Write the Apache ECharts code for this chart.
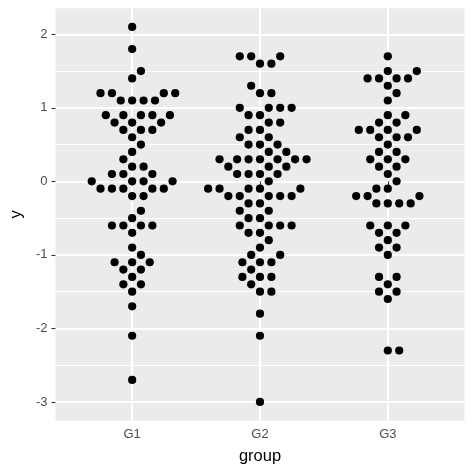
<!DOCTYPE html>
<html>
<head>
<meta charset="utf-8">
<script src="https://cdn.jsdelivr.net/npm/echarts@6/dist/echarts.min.js"></script>
<style>
html,body{margin:0;padding:0;background:#fff;}
#c{width:474px;height:474px;}
</style>
</head>
<body>
<div id="c"></div>
<script>
// ---- data ----
const categories = ['G1', 'G2', 'G3'];
const valuesG1 = [2.1, 1.8, 1.5, 1.4, 1.2, 1.2, 1.2, 1.2, 1.1, 1.1, 1.1, 1.1,
  0.9, 0.9, 0.9, 0.9, 0.9, 0.8, 0.8, 0.8, 0.7, 0.7, 0.7, 0.6, 0.5, 0.4, 0.3,
  0.2, 0.2, 0.1, 0.1, 0.1, 0.0, 0.0, 0.0, 0.0, -0.1, -0.1, -0.1, -0.1, -0.1,
  -0.2, -0.2, -0.4, -0.5, -0.6, -0.6, -0.6, -0.6, -0.7, -0.9, -1.0,
  -1.1, -1.1, -1.1, -1.2, -1.2, -1.3, -1.4, -1.4, -1.5, -1.7, -2.1, -2.7];
const valuesG2 = [1.7, 1.7, 1.7, 1.6, 1.6, 1.3, 1.2, 1.2, 1.0, 1.0, 1.0, 1.0,
  0.9, 0.9, 0.8, 0.8, 0.7, 0.7, 0.6, 0.6, 0.5, 0.5, 0.5, 0.4, 0.4,
  0.3, 0.3, 0.3, 0.3, 0.3, 0.3, 0.3, 0.2, 0.2, 0.2, 0.1, 0.1, 0.1, 0.1, 0.0,
  -0.1, -0.1, -0.1, -0.1, -0.1, -0.2, -0.2, -0.2, -0.2, -0.2, -0.3, -0.3,
  -0.4, -0.4, -0.5, -0.5, -0.6, -0.6, -0.6, -0.6, -0.7, -0.7, -0.8, -0.9,
  -1.0, -1.0, -1.1, -1.1, -1.1, -1.2, -1.3, -1.3, -1.3, -1.4, -1.5, -1.5,
  -1.8, -2.1, -3.0];
const valuesG3 = [1.7, 1.5, 1.5, 1.4, 1.4, 1.4, 1.4, 1.3, 1.2, 1.1, 0.9, 0.9,
  0.8, 0.8, 0.7, 0.7, 0.7, 0.7, 0.6, 0.6, 0.6, 0.5, 0.4, 0.4, 0.3, 0.3, 0.3,
  0.2, 0.2, 0.1, 0.0, -0.1, -0.1, -0.2, -0.2, -0.2, -0.3, -0.3, -0.3, -0.3,
  -0.6, -0.6, -0.6, -0.7, -0.7, -0.8, -0.9, -0.9, -1.0, -1.3, -1.3, -1.4,
  -1.5, -1.5, -1.6, -2.3, -2.3];
const groupValues = [valuesG1, valuesG2, valuesG3];
const yTicks = [-3, -2, -1, 0, 1, 2];
const yMinorTicks = [-2.5, -1.5, -0.5, 0.5, 1.5];
const xTicks = [1, 2, 3];

// ---- layout constants ----
const W = 474, H = 474;
const gridL = 52.8, gridR = 9.5, gridT = 8.2, gridB = 53.3;
const xMin = 0.4, xMax = 3.6;
let all = [].concat(...groupValues);
const dMin = Math.min(...all), dMax = Math.max(...all);
const expand = (dMax - dMin) * 0.05;
const yMin = dMin - expand, yMax = dMax + expand;
const pxPerX = (W - gridL - gridR) / (xMax - xMin);
const pxPerY = (H - gridT - gridB) / (yMax - yMin);
const DOT = 11.5; // beeswarm spacing in px

// beeswarm "swarm" placement, priority ascending
function swarm(vals) {
  const sorted = vals.slice().sort((a, b) => a - b);
  const ys = sorted.map(v => v * pxPerY / DOT);
  const xs = [];
  for (let i = 0; i < ys.length; i++) {
    const yi = ys[i];
    const close = [];
    for (let j = 0; j < i; j++) if (Math.abs(ys[j] - yi) < 1) close.push(j);
    if (!close.length) { xs.push(0); continue; }
    const pos = [], neg = [];
    close.forEach(j => {
      const off = Math.sqrt(1 - (yi - ys[j]) ** 2);
      pos.push(xs[j] + off); neg.push(xs[j] - off);
    });
    const cands = [0].concat(pos, neg);
    let best = Infinity;
    cands.forEach(c => {
      const bad = close.some(j => (yi - ys[j]) ** 2 + (c - xs[j]) ** 2 < 0.999);
      if (!bad && Math.abs(c) < Math.abs(best)) best = c;
    });
    xs.push(best);
  }
  return sorted.map((v, i) => [xs[i] * DOT, v]);
}

const points = [];
groupValues.forEach((vals, gi) => {
  swarm(vals).forEach(([offPx, v]) => points.push([gi + 1 + offPx / pxPerX, v]));
});

const chart = echarts.init(document.getElementById('c'), null, {renderer: 'canvas'});
chart.setOption({
  animation: false,
  backgroundColor: '#ffffff',
  grid: {left: gridL, right: gridR, top: gridT, bottom: gridB, show: true,
    backgroundColor: '#EBEBEB', borderWidth: 0},
  xAxis: {
    type: 'value', min: xMin, max: xMax,
    name: 'group', nameLocation: 'middle', nameGap: 27,
    nameTextStyle: {fontFamily: 'Liberation Sans', fontSize: 16.5, color: '#000'},
    axisLine: {show: false},
    axisTick: {show: true, length: 4, customValues: xTicks, lineStyle: {color: '#333333', width: 1.1}},
    axisLabel: {customValues: xTicks, margin: 7, fontFamily: 'Liberation Sans', fontSize: 13, color: '#4D4D4D',
      formatter: v => categories[Math.round(v) - 1] || ''},
    splitLine: {show: true, lineStyle: {color: '#ffffff', width: 2}}
  },
  yAxis: {
    type: 'value', min: yMin, max: yMax,
    name: 'y', nameLocation: 'middle', nameGap: 26, nameRotate: 90,
    nameTextStyle: {fontFamily: 'Liberation Sans', fontSize: 16.5, color: '#000'},
    axisLine: {show: false},
    axisTick: {show: true, length: 4, customValues: yTicks, lineStyle: {color: '#333333', width: 1.1}},
    axisLabel: {customValues: yTicks, margin: 8, fontFamily: 'Liberation Sans', fontSize: 13, color: '#4D4D4D'},
    splitLine: {show: true, lineStyle: {color: '#ffffff', width: 2}}
  },
  series: [{
    type: 'scatter',
    data: points,
    symbol: 'circle',
    symbolSize: 8.2,
    itemStyle: {color: '#000000', opacity: 1},
    silent: true,
    z: 3,
    markLine: {
      silent: true, symbol: 'none', label: {show: false}, animation: false,
      lineStyle: {color: '#ffffff', width: 1, type: 'solid'},
      z: 1,
      data: yMinorTicks.map(v => ({yAxis: v}))
    }
  }]
});
</script>
</body>
</html>
